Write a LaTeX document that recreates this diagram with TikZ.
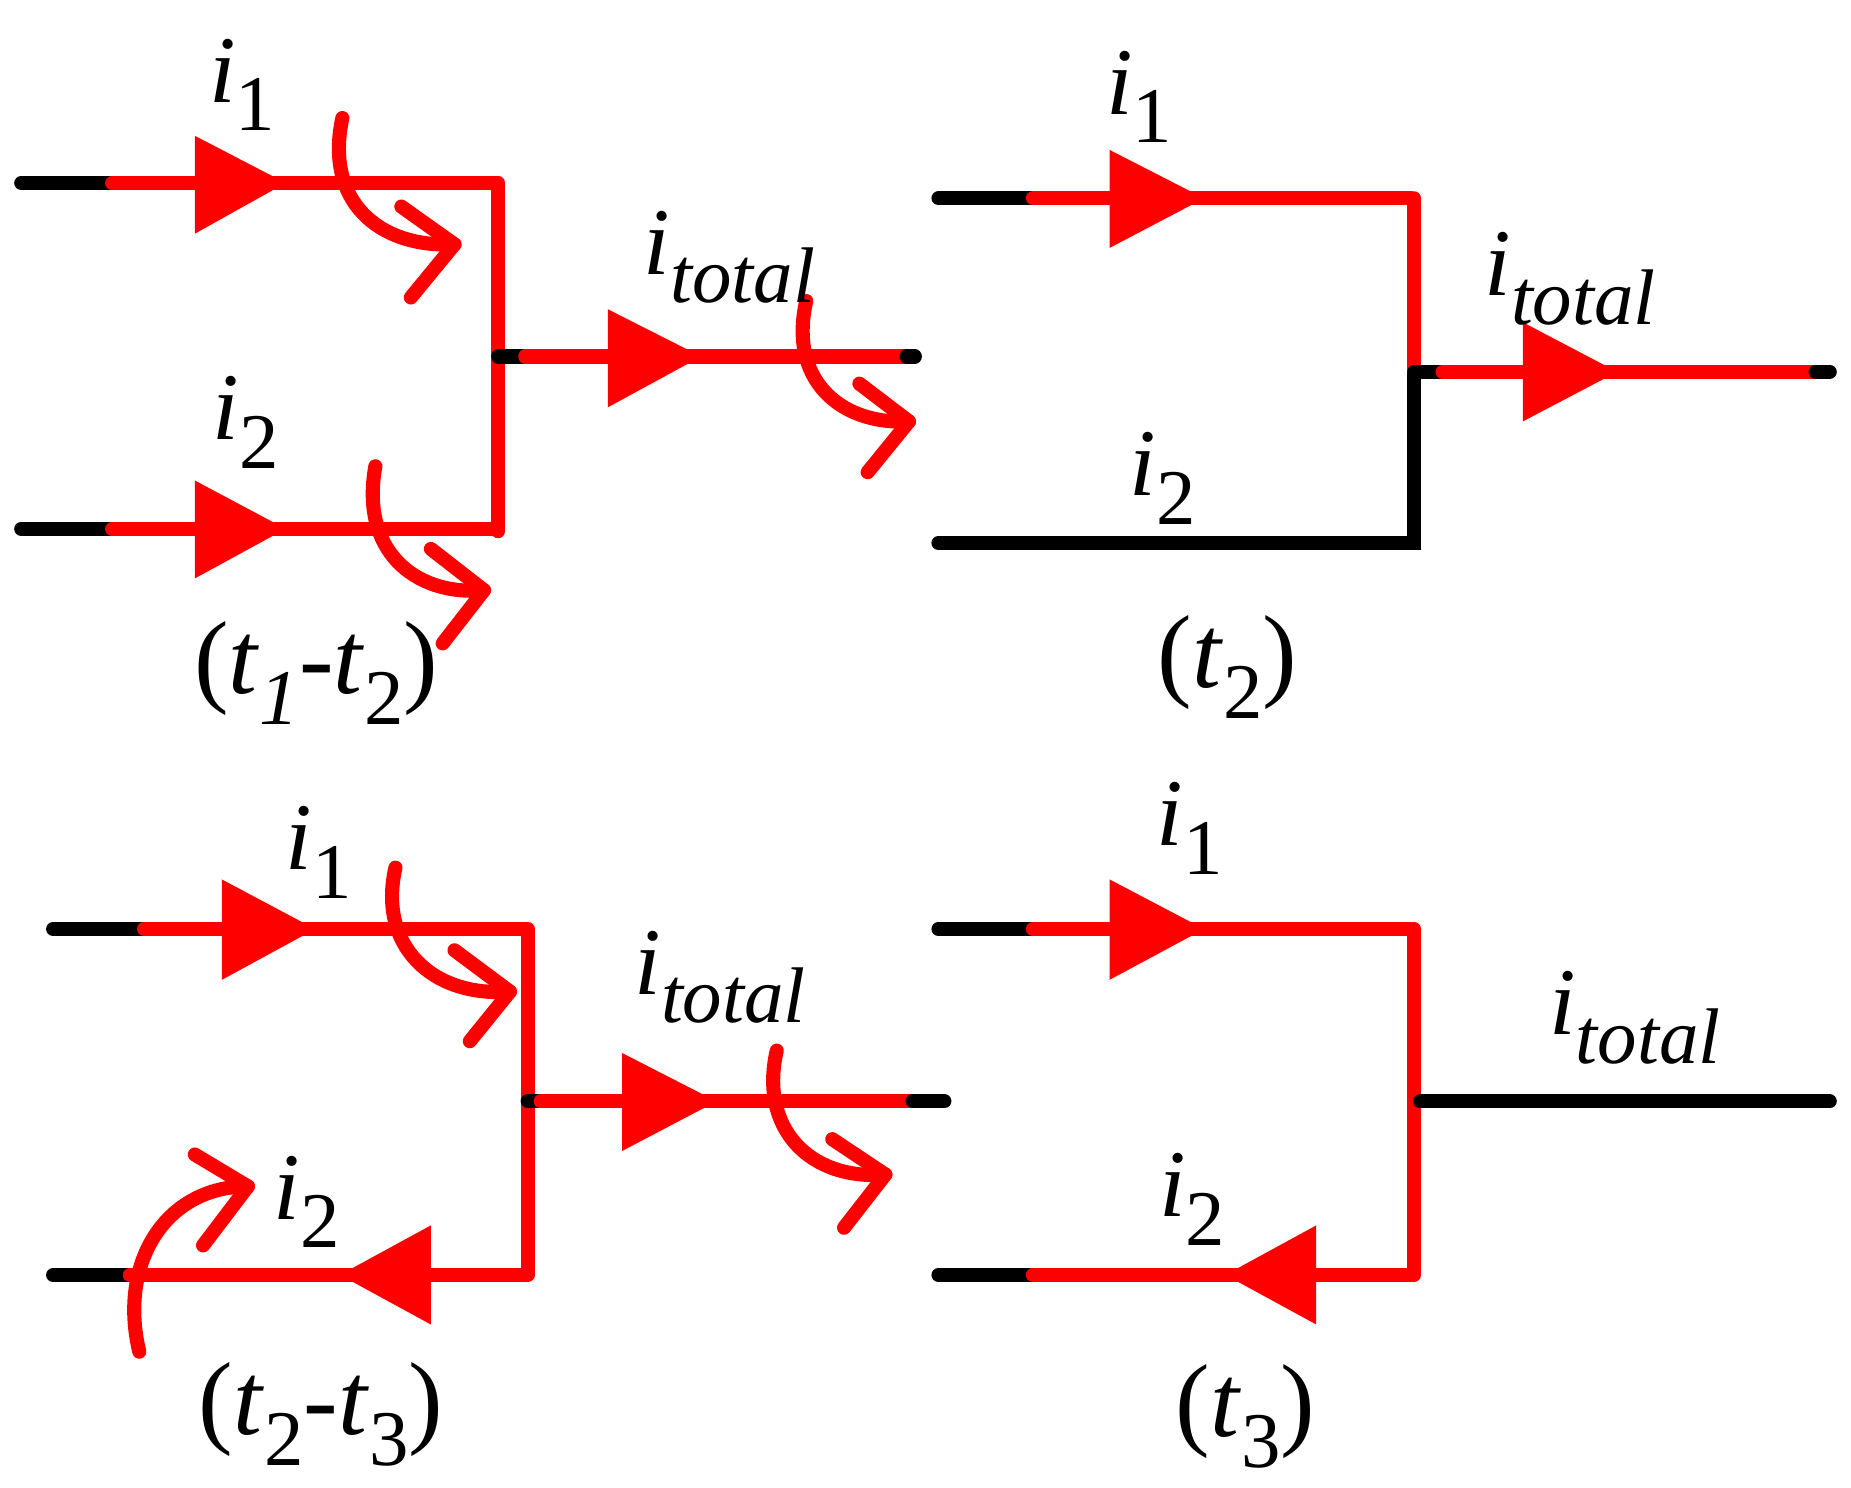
\documentclass[tikz,border=0pt]{standalone}
\usepackage{fontspec}
\setmainfont{Liberation Serif}
\newcommand{\sbs}[1]{\raisebox{-0.3em}{\fontsize{19}{20}\selectfont #1}}
\begin{document}
\begin{tikzpicture}[x=0.01cm,y=-0.01cm,line width=3.4pt,
  bw/.style={black,line cap=round},
  rw/.style={red,line cap=round},
  lab/.style={font=\fontsize{23}{26}\selectfont,inner sep=0pt},
  plab/.style={font=\fontsize{25}{28}\selectfont,inner sep=0pt},
  curv/.style={red,line cap=round,line join=round}]
\useasboundingbox (0,0) rectangle (1568,1260);
% ---------- Panel 1
\draw[bw] (18,155)--(100,155); \draw[rw] (95,155)--(420,155);
\fill[red] (165,115)--(242,155)--(165,198)--cycle;
\draw[bw] (18,448)--(100,448); \draw[rw] (95,448)--(420,448);
\fill[red] (165,407)--(242,448)--(165,490)--cycle;
\draw[rw] (422,155)--(422,450);
\draw[bw] (422,302)--(450,302); \draw[rw] (445,302)--(770,302); \draw[bw] (768,302)--(775,302);
\fill[red] (515,262)--(594,302)--(515,345)--cycle;
\draw[curv] (290,100) .. controls (275,170) and (320,210) .. (385,207);
\draw[curv] (340,175)--(385,207)--(348,252);
\draw[curv] (318,395) .. controls (305,465) and (350,505) .. (410,500);
\draw[curv] (365,465)--(410,500)--(375,545);
\draw[curv] (683,255) .. controls (668,320) and (710,360) .. (770,357);
\draw[curv] (728,325)--(770,357)--(735,400);
\node[lab] (a1) at (205,72) {\textit{i}\sbs{1}};
\node[lab] (a2) at (208,358) {\textit{i}\sbs{2}};
\node[lab] (a3) at (618,218) {\textit{i}\sbs{\textit{total}}};
\node[plab] (a4) at (268,570) {(\textit{t}\sbs{\textit{1}}-\textit{t}\sbs{2})};
% ---------- Panel 2
\draw[bw] (795,168)--(880,168); \draw[rw] (875,168)--(1195,168);
\fill[red] (940,127)--(1020,168)--(940,210)--cycle;
\draw[rw] (1198,168)--(1198,318);
\draw[bw] (1198,318)--(1198,460)--(795,460);
\draw[bw] (1198,315)--(1225,315); \draw[rw] (1222,315)--(1540,315); \draw[bw] (1538,315)--(1550,315);
\fill[red] (1290,273)--(1370,315)--(1290,357)--cycle;
\node[lab] (b1) at (965,82) {\textit{i}\sbs{1}};
\node[lab] (b2) at (985,405) {\textit{i}\sbs{2}};
\node[lab] (b3) at (1330,236) {\textit{i}\sbs{\textit{total}}};
\node[plab] (b4) at (1040,565) {(\textit{t}\sbs{2})};
% ---------- Panel 3
\draw[bw] (45,787)--(127,787); \draw[rw] (122,787)--(445,787);
\fill[red] (188,745)--(267,787)--(188,830)--cycle;
\draw[rw] (447,787)--(447,1080);
\draw[bw] (45,1080)--(115,1080); \draw[rw] (110,1080)--(445,1080);
\fill[red] (365,1038)--(288,1080)--(365,1122)--cycle;
\draw[bw] (447,933)--(462,933); \draw[rw] (458,933)--(775,933); \draw[bw] (773,933)--(800,933);
\fill[red] (527,892)--(607,933)--(527,975)--cycle;
\draw[curv] (335,735) .. controls (320,800) and (365,845) .. (432,840);
\draw[curv] (385,805)--(432,840)--(398,882);
\draw[curv] (658,890) .. controls (643,955) and (685,1000) .. (750,995);
\draw[curv] (705,965)--(750,995)--(715,1040);
\draw[curv] (118,1145) .. controls (100,1070) and (140,1005) .. (210,1005);
\draw[curv] (165,978)--(210,1005)--(172,1055);
\node[lab] (c1) at (270,722) {\textit{i}\sbs{1}};
\node[lab] (c2) at (260,1018) {\textit{i}\sbs{2}};
\node[lab] (c3) at (610,828) {\textit{i}\sbs{\textit{total}}};
\node[plab] (c4) at (272,1198) {(\textit{t}\sbs{2}-\textit{t}\sbs{3})};
% ---------- Panel 4
\draw[bw] (795,787)--(880,787); \draw[rw] (875,787)--(1195,787);
\fill[red] (940,745)--(1020,787)--(940,830)--cycle;
\draw[rw] (1198,787)--(1198,1080);
\draw[bw] (795,1080)--(880,1080); \draw[rw] (875,1080)--(1195,1080);
\fill[red] (1115,1038)--(1038,1080)--(1115,1122)--cycle;
\draw[bw] (1203,933)--(1550,933);
\node[lab] (d1) at (1008,702) {\textit{i}\sbs{1}};
\node[lab] (d2) at (1010,1016) {\textit{i}\sbs{2}};
\node[lab] (d3) at (1385,862) {\textit{i}\sbs{\textit{total}}};
\node[plab] (d4) at (1055,1200) {(\textit{t}\sbs{3})};
\end{tikzpicture}
\end{document}
